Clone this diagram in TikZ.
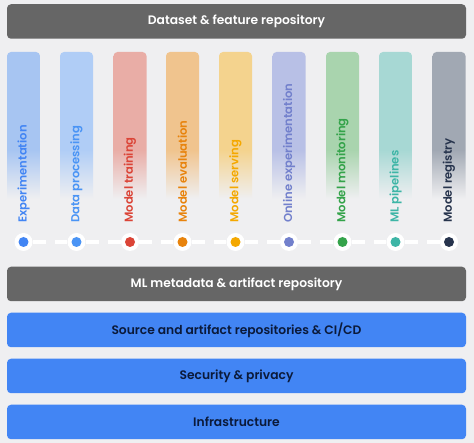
\documentclass[tikz,border=0pt]{standalone}
\usepackage{fontspec}
\setmainfont{Poppins}[UprightFont=* Medium, BoldFont=* SemiBold]
\definecolor{bg}{HTML}{EFEFF1}
\definecolor{darkbar}{HTML}{666666}
\definecolor{bluebar}{HTML}{4285F4}
\definecolor{bluetext}{HTML}{0B1A3A}
\definecolor{c1}{HTML}{4285F4}\definecolor{k1}{HTML}{A7C5F2}
\definecolor{c2}{HTML}{4A94F5}\definecolor{k2}{HTML}{B0CDF6}
\definecolor{c3}{HTML}{DB4437}\definecolor{k3}{HTML}{E9ADA6}
\definecolor{c4}{HTML}{E8830C}\definecolor{k4}{HTML}{F0C48E}
\definecolor{c5}{HTML}{F4A800}\definecolor{k5}{HTML}{F4D38E}
\definecolor{c6}{HTML}{7280CC}\definecolor{k6}{HTML}{B8C0E6}
\definecolor{c7}{HTML}{34A34A}\definecolor{k7}{HTML}{A9D4AE}
\definecolor{c8}{HTML}{3DB5A6}\definecolor{k8}{HTML}{A7D8D4}
\definecolor{c9}{HTML}{27344D}\definecolor{k9}{HTML}{A1A8B3}
\colorlet{colk}{k1}
\pgfdeclareverticalshading[colk]{colfade}{100bp}{color(0bp)=(bg); color(30bp)=(bg); color(45bp)=(colk); color(100bp)=(colk)}
\begin{document}
\begin{tikzpicture}[x=1pt,y=-1pt,
  bar/.style={rounded corners=4pt, minimum width=459pt, minimum height=34.5pt, inner sep=0pt,
    font=\bfseries\fontsize{12.3}{14}\selectfont},
  graybar/.style={bar, fill=darkbar, text=white},
  bluebarstyle/.style={bar, fill=bluebar, text=bluetext},
  lab/.style={inner sep=0pt, font=\bfseries\fontsize{11.6}{13}\selectfont},
  halo/.style={circle, fill=white, minimum size=18pt, inner sep=0pt},
  dotst/.style={circle, minimum size=10pt, inner sep=0pt},
  conn/.style={white, line width=4pt, dash pattern=on 13pt off 9pt}]
\fill[bg] (0,0) rectangle (474,443);
\useasboundingbox (0,0) rectangle (474,443);
\node[graybar] (dataset) at (236.5,21.5) {Dataset \& feature repository};
\foreach \x/\k/\c/\t [count=\i] in {23.5/k1/c1/Experimentation, 76.5/k2/c2/Data processing,
  130/k3/c3/Model training, 182.5/k4/c4/Model evaluation, 235.5/k5/c5/Model serving,
  289/k6/c6/Online experimentation, 342.5/k7/c7/Model monitoring, 395.5/k8/c8/ML pipelines,
  449/k9/c9/Model registry} {
  \colorlet{colk}{\k}
  \shade[shading=colfade, rounded corners=4pt] (\x-16.5,52) rectangle (\x+16.5,215);
  \node[lab, text=\c, rotate=90, anchor=west] (lab\i) at (\x,223) {\t};
  \node[halo] (halo\i) at (\x,242) {};
  \node[dotst, fill=\c] (dot\i) at (\x,242) {};
}
\foreach \i [evaluate=\i as \j using int(\i+1)] in {1,...,8}
  \draw[conn] (halo\i) -- (halo\j);
\node[graybar] (meta) at (236.5,284) {ML metadata \& artifact repository};
\node[bluebarstyle] (source) at (236.5,330) {Source and artifact repositories \& CI/CD};
\node[bluebarstyle] (security) at (236.5,376) {Security \& privacy};
\node[bluebarstyle] (infra) at (236.5,422) {Infrastructure};
\end{tikzpicture}
\end{document}
